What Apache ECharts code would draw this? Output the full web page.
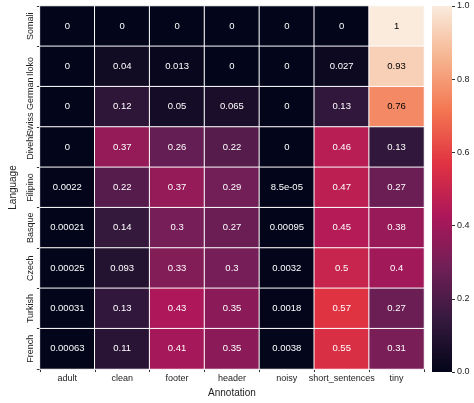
<!DOCTYPE html>
<html><head><meta charset="utf-8">
<script src="https://cdn.jsdelivr.net/npm/echarts@6/dist/echarts.min.js"></script>
<style>html,body{margin:0;padding:0;background:#fff}#c{width:474px;height:403px}</style>
</head><body><div id="c"></div>
<script>
const annotations = ["adult","clean","footer","header","noisy","short_sentences","tiny"];
const languages = ["Somali","Iloko","Swiss German","Divehi","Filipino","Basque","Czech","Turkish","French"];
const labels = [
["0","0","0","0","0","0","1"],
["0","0.04","0.013","0","0","0.027","0.93"],
["0","0.12","0.05","0.065","0","0.13","0.76"],
["0","0.37","0.26","0.22","0","0.46","0.13"],
["0.0022","0.22","0.37","0.29","8.5e-05","0.47","0.27"],
["0.00021","0.14","0.3","0.27","0.00095","0.45","0.38"],
["0.00025","0.093","0.33","0.3","0.0032","0.5","0.4"],
["0.00031","0.13","0.43","0.35","0.0018","0.57","0.27"],
["0.00063","0.11","0.41","0.35","0.0038","0.55","0.31"]
];
const colorTicks = [0,0.2,0.4,0.6,0.8,1.0];
const rocket = ['#03051a','#35193e','#701f57','#ad1759','#e13342','#f37651','#f6b48f','#faebdd'];

const data = [];
labels.forEach((row,r)=>row.forEach((s,c)=>{
  const v = parseFloat(s);
  data.push({value:[c, r, v, s], label:{color: v>0.6?'#000':'#fff'}});
}));
const stops = rocket.map((c,i)=>({offset:i/(rocket.length-1), color:c}));
const chart = echarts.init(document.getElementById('c'));
chart.setOption({
  animation:false,
  textStyle:{fontFamily:'Liberation Sans'},
  grid:[{left:33,right:50,top:6,bottom:31},{left:432,width:20,top:6,bottom:31}],
  xAxis:[{type:'category',data:annotations,gridIndex:0,axisLine:{show:false},axisTick:{show:true,length:3,lineStyle:{color:'#333'}},
    axisLabel:{fontSize:9,color:'#222',margin:5,interval:0},name:'Annotation',nameLocation:'middle',nameGap:19,nameTextStyle:{fontSize:10,color:'#222'}},
    {type:'category',data:['c'],gridIndex:1,show:false}],
  yAxis:[{type:'category',data:languages,inverse:true,gridIndex:0,axisLine:{show:false},axisTick:{show:true,length:3,lineStyle:{color:'#333'}},
    axisLabel:{fontSize:9,color:'#222',rotate:90,margin:5,interval:0},name:'Language',nameLocation:'middle',nameGap:20,nameTextStyle:{fontSize:10,color:'#222'}},
    {type:'value',min:0,max:1,interval:0.2,gridIndex:1,position:'right',axisLine:{show:false},splitLine:{show:false},
    axisTick:{show:true,length:3,lineStyle:{color:'#333'}},axisLabel:{fontSize:9,color:'#222',margin:5,formatter:v=>v.toFixed(1)}}],
  visualMap:{show:false,min:0,max:1,dimension:2,seriesIndex:0,inRange:{color:rocket}},
  series:[{type:'heatmap',xAxisIndex:0,yAxisIndex:0,data:data,
    itemStyle:{borderColor:'#fff',borderWidth:1},
    label:{show:true,fontSize:9.5,formatter:p=>p.value[3]}},
    {type:'bar',xAxisIndex:1,yAxisIndex:1,data:[1],barWidth:'100%',
    itemStyle:{color:new echarts.graphic.LinearGradient(0,1,0,0,stops)}}]
});
</script></body></html>
